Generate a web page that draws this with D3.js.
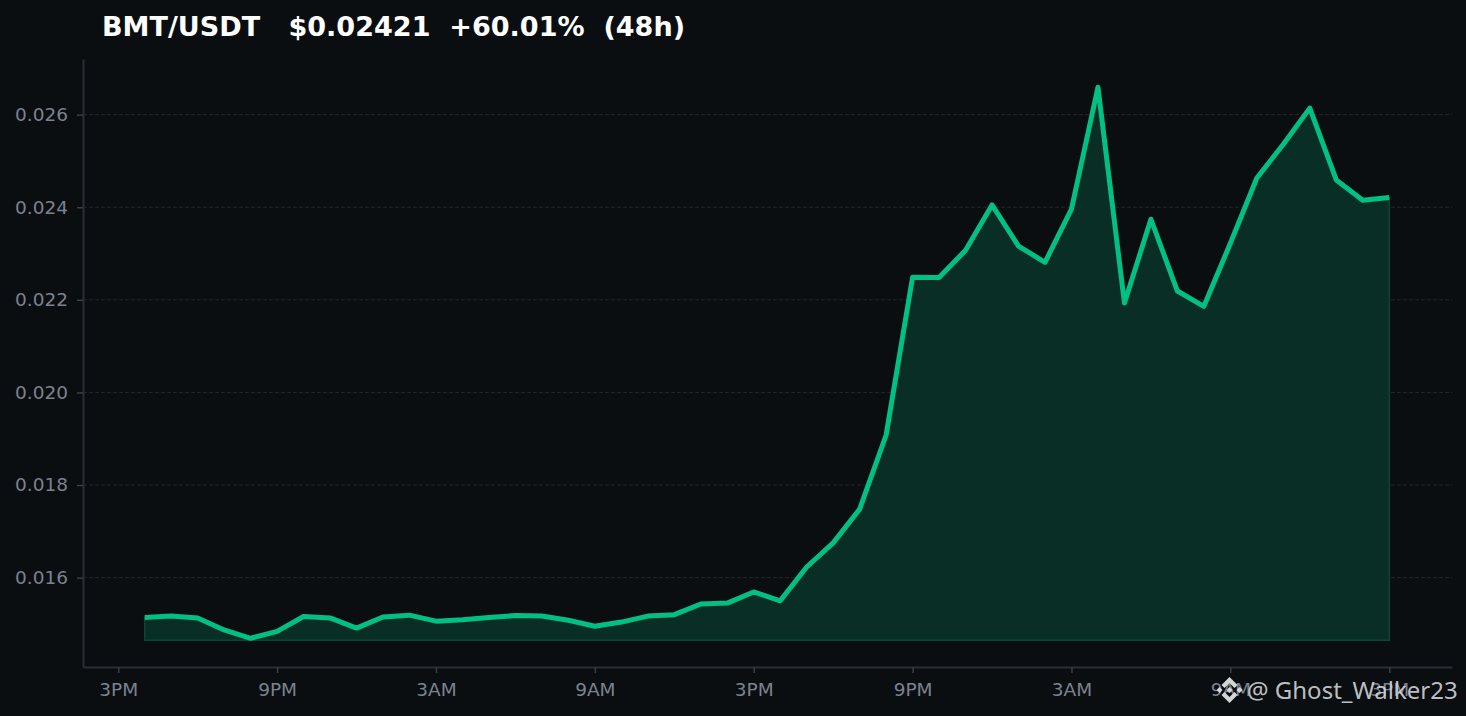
<!DOCTYPE html>
<html>
<head>
<meta charset="utf-8">
<script src="https://cdn.jsdelivr.net/npm/d3@7"></script>
<style>
  html, body { margin: 0; padding: 0; background: #0a0e11; overflow: hidden; }
  svg { display: block; font-family: "DejaVu Sans", sans-serif; }
</style>
</head>
<body>
<script>
// size of the page and plot box
var w = 1466;
var h = 716;
var left = 83, right = 1452, top_ = 59, bottom = 667;

// price for each hour, starting one hour after the first tick
var hours = [1,2,3,4,5,6,7,8,9,10,11,12,13,14,15,16,17,18,19,20,21,22,23,24,
  25,26,27,28,29,30,31,32,33,34,35,36,37,38,39,40,41,42,43,44,45,46,47,48];
var prices = [0.01514,0.01517,0.01513,0.01487,0.01469,0.01484,0.01516,0.01513,
  0.01491,0.01515,0.01519,0.01506,0.01509,0.01514,0.01518,0.01517,
  0.01508,0.01495,0.01504,0.01517,0.01520,0.01543,0.01545,0.01569,
  0.01550,0.01623,0.01675,0.01748,0.01908,0.02249,0.02248,0.02307,
  0.02405,0.02316,0.02281,0.02396,0.02659,0.02193,0.02374,0.02219,
  0.02186,0.02322,0.02463,0.02536,0.02614,0.02459,0.02415,0.02421];
var areaBase = 0.01465;

// axis ticks
var xTicks = [0,6,12,18,24,30,36,42,48];
var xLabels = ["3PM","9PM","3AM","9AM","3PM","9PM","3AM","9AM","3PM"];
var yTicks = [0.016,0.018,0.020,0.022,0.024,0.026];

var titleText = "BMT/USDT   $0.02421  +60.01%  (48h)";
var watermark = "@ Ghost_Walker23";

var svg = d3.select("body").append("svg").attr("width", w).attr("height", h);

svg.append("rect").attr("width", w).attr("height", h).attr("fill", "#0a0e11");

var x = d3.scaleLinear().domain([-1.33, 50.37]).range([left, right]);
var y = d3.scaleLinear().domain([0.01407, 0.027201]).range([bottom, top_]);

// grid lines
svg.append("g").selectAll("line")
  .data(yTicks)
  .enter()
  .append("line")
  .attr("x1", left)
  .attr("x2", right)
  .attr("y1", d => y(d))
  .attr("y2", d => y(d))
  .attr("stroke", "#22272c")
  .attr("stroke-width", 1)
  .attr("stroke-dasharray", "4,2");

// area under the line
var area = d3.area()
  .x((d, i) => x(hours[i]))
  .y0(y(areaBase))
  .y1(d => y(d));

svg.append("path")
  .datum(prices)
  .attr("d", area)
  .attr("fill", "#092e26")
  .attr("stroke", "#0c4436")
  .attr("stroke-width", 1.5);

// price line
var line = d3.line()
  .x((d, i) => x(hours[i]))
  .y(d => y(d));

svg.append("path")
  .datum(prices)
  .attr("d", line)
  .attr("fill", "none")
  .attr("stroke", "#02c084")
  .attr("stroke-width", 5)
  .attr("stroke-linejoin", "round");

// axes
var xAxis = d3.axisBottom(x)
  .tickValues(xTicks)
  .tickFormat((d, i) => xLabels[i])
  .tickSizeInner(6)
  .tickSizeOuter(0)
  .tickPadding(10);

var yAxis = d3.axisLeft(y)
  .tickValues(yTicks)
  .tickFormat(d3.format(".3f"))
  .tickSizeInner(6)
  .tickSizeOuter(0)
  .tickPadding(9);

var gx = svg.append("g").attr("transform", "translate(0," + bottom + ")").call(xAxis);
var gy = svg.append("g").attr("transform", "translate(" + left + ",0)").call(yAxis);

[gx, gy].forEach(function(g) {
  g.select(".domain").attr("stroke", "#2a2f36").attr("stroke-width", 2);
  g.selectAll(".tick line").attr("stroke", "#3a3f47").attr("stroke-width", 1.5);
  g.selectAll(".tick text")
    .attr("fill", "#7c828d")
    .style("font-size", "18.5px")
    .style("font-family", '"DejaVu Sans", sans-serif');
});

// title
svg.append("text")
  .attr("x", 102)
  .attr("y", 36)
  .attr("fill", "#ffffff")
  .style("font-size", "27.05px")
  .style("font-weight", "bold")
  .style("white-space", "pre")
  .attr("xml:space", "preserve")
  .text(titleText);

// watermark logo, built from small diamonds
var logo = svg.append("g").attr("transform", "translate(1229.5,690)").attr("fill", "#d4d6d8");
logo.append("path").attr("d", "M0,-13 L8,-5 L5,-2 L0,-7 L-5,-2 L-8,-5 Z");
logo.append("path").attr("d", "M0,13 L8,5 L5,2 L0,7 L-5,2 L-8,5 Z");
logo.append("path").attr("d", "M0,-3 L3,0 L0,3 L-3,0 Z");
logo.append("path").attr("d", "M-10,-3 L-7,0 L-10,3 L-13,0 Z");
logo.append("path").attr("d", "M10,-3 L13,0 L10,3 L7,0 Z");

svg.append("text")
  .attr("x", 1247)
  .attr("y", 699)
  .attr("fill", "#d4d6d8")
  .attr("fill-opacity", 0.9)
  .style("font-family", '"Noto Sans", sans-serif')
  .style("font-size", "24px")
  .text(watermark);
</script>
</body>
</html>
